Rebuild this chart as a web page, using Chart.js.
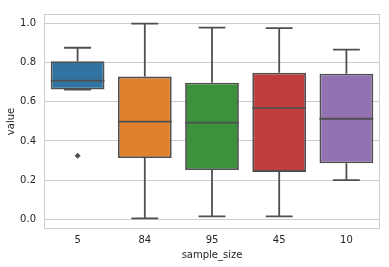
<!DOCTYPE html>
<html>
<head>
<meta charset="utf-8">
<script src="https://cdn.jsdelivr.net/npm/chart.js@4/dist/chart.umd.min.js"></script>
<style>
  html, body { margin: 0; padding: 0; background: #fff; }
  #wrap { width: 389px; height: 267px; }
</style>
</head>
<body>
<div id="wrap"><canvas id="chart"></canvas></div>
<script>
// box plot stats per sample_size group
const categories = ['5', '84', '95', '45', '10'];
const whiskerLow = [0.662, 0.005, 0.015, 0.015, 0.200];
const q1 = [0.662, 0.313, 0.252, 0.242, 0.286];
const median = [0.707, 0.498, 0.493, 0.567, 0.513];
const q3 = [0.806, 0.728, 0.697, 0.748, 0.743];
const whiskerHigh = [0.875, 0.998, 0.978, 0.975, 0.865];
const outliers = [0.325, null, null, null, null];
const yTicks = [0.0, 0.2, 0.4, 0.6, 0.8, 1.0];

const colors = ['#3274a1', '#e1812c', '#3a923a', '#c03d3e', '#9372b2'];
const lineColor = '#4f4f4f';

// whiskers, caps and median lines drawn on top of the boxes
const whiskerPlugin = {
  id: 'whiskers',
  afterDatasetsDraw(chart) {
    const ctx = chart.ctx;
    const x = chart.scales.x, y = chart.scales.y;
    const meta = chart.getDatasetMeta(0);
    ctx.save();
    ctx.strokeStyle = lineColor;
    ctx.lineWidth = 1.8;
    categories.forEach((c, i) => {
      const bar = meta.data[i];
      const cx = x.getPixelForValue(i);
      const half = bar.width / 2;
      const yLo = y.getPixelForValue(whiskerLow[i]);
      const yHi = y.getPixelForValue(whiskerHigh[i]);
      const yQ1 = y.getPixelForValue(q1[i]);
      const yQ3 = y.getPixelForValue(q3[i]);
      const yMed = y.getPixelForValue(median[i]);
      ctx.beginPath();
      ctx.moveTo(cx, yHi); ctx.lineTo(cx, yQ3);
      ctx.moveTo(cx, yQ1); ctx.lineTo(cx, yLo);
      ctx.moveTo(cx - half / 2, yHi); ctx.lineTo(cx + half / 2, yHi);
      ctx.moveTo(cx - half / 2, yLo); ctx.lineTo(cx + half / 2, yLo);
      ctx.moveTo(cx - half, yMed); ctx.lineTo(cx + half, yMed);
      ctx.stroke();
    });
    ctx.restore();
  }
};

// light frame round the plot area (seaborn whitegrid spines)
const framePlugin = {
  id: 'frame',
  afterDraw(chart) {
    const a = chart.chartArea, ctx = chart.ctx;
    ctx.save();
    ctx.strokeStyle = '#cccccc';
    ctx.lineWidth = 1;
    ctx.strokeRect(Math.round(a.left) + 0.5, Math.round(a.top) + 0.5,
      Math.round(a.right - a.left) - 1, Math.round(a.bottom - a.top) - 1);
    ctx.restore();
  }
};

new Chart(document.getElementById('chart'), {
  data: {
    labels: categories,
    datasets: [{
      type: 'bar',
      data: categories.map((c, i) => [q1[i], q3[i]]),
      backgroundColor: colors,
      borderColor: lineColor,
      borderWidth: 1.8,
      borderSkipped: false,
      barPercentage: 0.8,
      categoryPercentage: 1.0
    }, {
      type: 'line',
      data: outliers,
      showLine: false,
      pointStyle: 'rectRot',
      pointRadius: 3,
      backgroundColor: lineColor,
      borderColor: lineColor,
      borderWidth: 0
    }]
  },
  options: {
    responsive: true,
    maintainAspectRatio: false,
    animation: false,
    layout: { padding: { top: 10, right: 9, left: 0, bottom: 0 } },
    plugins: { legend: { display: false }, tooltip: { enabled: false } },
    scales: {
      x: {
        offset: true,
        grid: { display: false, drawTicks: false },
        border: { display: false },
        ticks: { color: '#262626', font: { family: 'DejaVu Sans', size: 10 }, padding: 5 },
        title: { display: true, text: 'sample_size', color: '#262626', font: { family: 'DejaVu Sans', size: 10 }, padding: { top: 3, bottom: 6 } },
        afterFit(s) { s.height = 38; }
      },
      y: {
        min: -0.049,
        max: 1.047,
        afterBuildTicks(s) { s.ticks = yTicks.map(v => ({ value: v })); },
        grid: { color: '#cccccc', lineWidth: 1, drawTicks: false },
        border: { display: false },
        ticks: {
          color: '#262626', font: { family: 'DejaVu Sans', size: 10 }, padding: 8,
          callback: v => v.toFixed(1)
        },
        title: { display: true, text: 'value', color: '#262626', font: { family: 'DejaVu Sans', size: 10 }, padding: { top: 5, bottom: 4 } },
        afterFit(s) { s.width = 44; }
      }
    }
  },
  plugins: [whiskerPlugin, framePlugin]
});
</script>
</body>
</html>
